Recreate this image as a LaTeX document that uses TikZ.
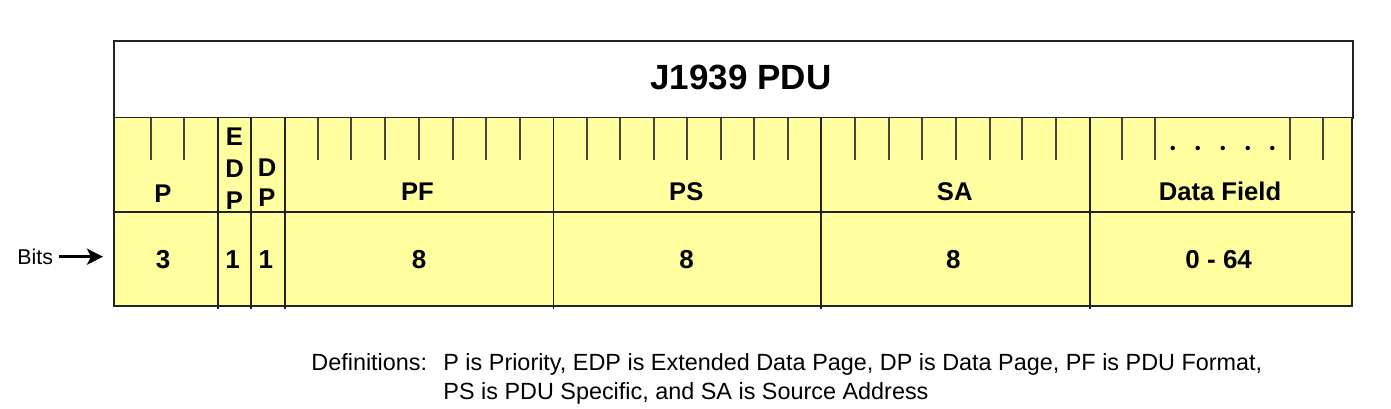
\documentclass[tikz,border=0pt]{standalone}
\usepackage{fontspec}
\setmainfont{Liberation Sans}
\usetikzlibrary{arrows.meta}
\definecolor{cellyellow}{RGB}{255,255,160}
\definecolor{linedark}{RGB}{35,35,35}
\definecolor{tickcol}{RGB}{70,70,60}
\begin{document}
\begin{tikzpicture}[x=0.5pt,y=-0.5pt,
  frame/.style={draw=linedark,line width=0.95pt},
  tickline/.style={draw=tickcol,line width=0.85pt},
  lbl/.style={font=\fontsize{12.8}{14}\selectfont\bfseries,inner sep=0pt,anchor=base},
  num/.style={font=\fontsize{13}{15}\selectfont\bfseries,inner sep=0pt,anchor=base},
  plain/.style={font=\fontsize{11.7}{13}\selectfont,inner sep=0pt,anchor=base west}
]
\useasboundingbox (0,0) rectangle (1391,408);
% title box
\draw[frame,fill=white] (114,40.7) rectangle (1352.7,118);
\node[font=\fontsize{17.5}{20}\selectfont\bfseries,inner sep=0pt,anchor=base] (title) at (741,89.3) {J1939 PDU};
% yellow area
\fill[cellyellow] (114,118) rectangle (1352,306);
% ticks
\foreach \x in {150.7,184.3,318.3,351,385.3,419,452.7,486.3,519.7,587,620.3,654.3,687,720.7,754,787.7,855,888.7,922.3,956.3,989.7,1022.3,1056.3,1122.3,1155,1290,1323.3}
  \draw[tickline] (\x,118) -- (\x,160);
% dots
\foreach \x in {1172.7,1197.7,1222.7,1247.7,1272.3}
  \fill[black] (\x,148) circle (2.2);
% dividers
\foreach \x in {217.7,251,285,553.5,821,1090}
  \draw[frame] (\x,118) -- (\x,309);
\draw[frame] (114,211.7) -- (1355,211.7);
\draw[frame] (114,118) -- (114,306) -- (1352,306) -- (1352,118);
% header labels
\node[lbl] (lP) at (163,202.7) {P};
\node[lbl] (lE1) at (234.5,145) {E};
\node[lbl] (lE2) at (234.5,177.7) {D};
\node[lbl] (lE3) at (234.5,209.5) {P};
\node[lbl] (lD1) at (267,176.7) {D};
\node[lbl] (lD2) at (267,206.7) {P};
\node[lbl] (lPF) at (417.5,200.5) {PF};
\node[lbl] (lPS) at (686.3,200.7) {PS};
\node[lbl] (lSA) at (954.7,200.7) {SA};
\node[lbl] (lDF) at (1220,200.7) {Data Field};
% bit counts
\node[num] (n1) at (163,268.3) {3};
\node[num] (n2) at (232.5,268.3) {1};
\node[num] (n3) at (265.8,268.3) {1};
\node[num] (n4) at (419,268.3) {8};
\node[num] (n5) at (686.7,268.3) {8};
\node[num] (n6) at (953.3,268.3) {8};
\node[num] (n7) at (1218.7,268.3) {0 - 64};
% bits arrow
\node[font=\fontsize{10.7}{12}\selectfont,inner sep=0pt,anchor=base west] (bits) at (17,264.5) {Bits};
\coordinate (arrowstart) at (59,256.7);
\coordinate (arrowend) at (103,256.7);
\draw[line width=1.5pt,-{Stealth[length=8pt,width=8pt,inset=2pt]}] (arrowstart) -- (arrowend);
% definitions
\node[plain] (defs) at (311,370) {Definitions:};
\node[plain] (def1) at (443,370) {P is Priority, EDP is Extended Data Page, DP is Data Page, PF is PDU Format,};
\node[plain] (def2) at (443,399.5) {PS is PDU Specific, and SA is Source Address};
\end{tikzpicture}
\end{document}
